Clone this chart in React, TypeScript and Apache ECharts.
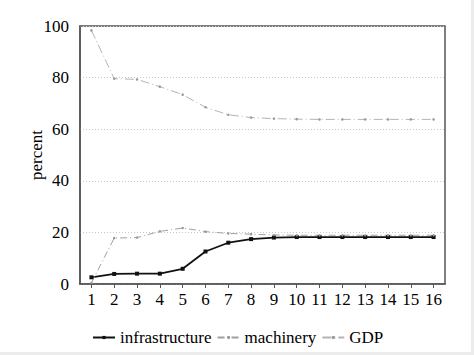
import React, { useEffect, useRef } from "react";
import * as echarts from "echarts";

const periods = ["1", "2", "3", "4", "5", "6", "7", "8", "9", "10", "11", "12", "13", "14", "15", "16"];
const infrastructure = [2.6, 3.9, 4.0, 4.0, 5.9, 12.6, 16.0, 17.4, 18.0, 18.2, 18.2, 18.2, 18.2, 18.2, 18.2, 18.2];
const machinery = [0.5, 17.8, 18.0, 20.4, 21.7, 20.3, 19.6, 19.3, 19.0, 18.9, 18.9, 18.9, 18.9, 18.9, 18.9, 18.9];
const gdp = [98.3, 79.6, 79.3, 76.5, 73.4, 68.5, 65.6, 64.5, 64.1, 63.9, 63.8, 63.8, 63.8, 63.8, 63.8, 63.8];
const yTicks = [0, 20, 40, 60, 80, 100];

const FONT = "'Liberation Serif', 'DejaVu Serif', serif";

export default function App() {
  const ref = useRef<HTMLDivElement>(null);
  useEffect(() => {
    if (!ref.current) return;
    const chart = echarts.init(ref.current, null, { renderer: "svg" });
    chart.setOption({
      animation: false,
      backgroundColor: "#ffffff",
      textStyle: { fontFamily: FONT },
      grid: {
        left: 80,
        right: 29,
        top: 26,
        bottom: 71,
        show: true,
        borderColor: "#555",
        borderWidth: 1.5,
        backgroundColor: "transparent",
      },
      legend: {
        bottom: 4,
        left: 87,
        itemWidth: 22,
        itemHeight: 4,
        itemGap: 5,
        textStyle: { fontFamily: FONT, fontSize: 17, color: "#000" },
        data: ["infrastructure", "machinery", "GDP"],
      },
      xAxis: {
        type: "category",
        data: periods,
        boundaryGap: true,
        axisLine: { lineStyle: { color: "#555", width: 1.5 } },
        axisTick: { show: true, alignWithLabel: true, length: 4, lineStyle: { color: "#555" } },
        axisLabel: { fontFamily: FONT, fontSize: 17, color: "#000", margin: 7 },
        splitLine: { show: false },
      },
      yAxis: {
        type: "value",
        min: yTicks[0],
        max: yTicks[yTicks.length - 1],
        interval: 20,
        name: "percent",
        nameLocation: "middle",
        nameRotate: 90,
        nameGap: 35,
        nameMoveOverlap: false,
        nameTextStyle: { fontFamily: FONT, fontSize: 17, color: "#000" },
        axisLine: { show: true, lineStyle: { color: "#555", width: 1.5 } },
        axisTick: { show: false },
        axisLabel: { fontFamily: FONT, fontSize: 17, color: "#000", margin: 11 },
        splitLine: { show: true, lineStyle: { color: "#c8c8c8", type: [1, 2], width: 1 } },
      },
      series: [
        {
          name: "infrastructure",
          type: "line",
          data: infrastructure,
          symbol: "rect",
          symbolSize: 4,
          itemStyle: { color: "#111" },
          lineStyle: { color: "#111", width: 1.8 },
        },
        {
          name: "machinery",
          type: "line",
          data: machinery,
          symbol: "circle",
          symbolSize: 2.5,
          itemStyle: { color: "#999" },
          lineStyle: { color: "#a0a0a0", width: 1, type: [7, 3, 1, 3] },
        },
        {
          name: "GDP",
          type: "line",
          data: gdp,
          symbol: "circle",
          symbolSize: 2.5,
          itemStyle: { color: "#999" },
          lineStyle: { color: "#b4b4b4", width: 1, type: [9, 3, 1, 3] },
        },
      ],
      graphic: [
        { type: "rect", right: 0, top: 0, shape: { width: 3, height: 355 }, style: { fill: "#ececec" } },
        { type: "rect", left: 0, bottom: 0, shape: { width: 474, height: 3 }, style: { fill: "#ececec" } },
      ],
    });
    return () => chart.dispose();
  }, []);
  return (
    <div
      ref={ref}
      style={{ position: "fixed", left: 0, top: 0, width: 474, height: 355 }}
    />
  );
}
